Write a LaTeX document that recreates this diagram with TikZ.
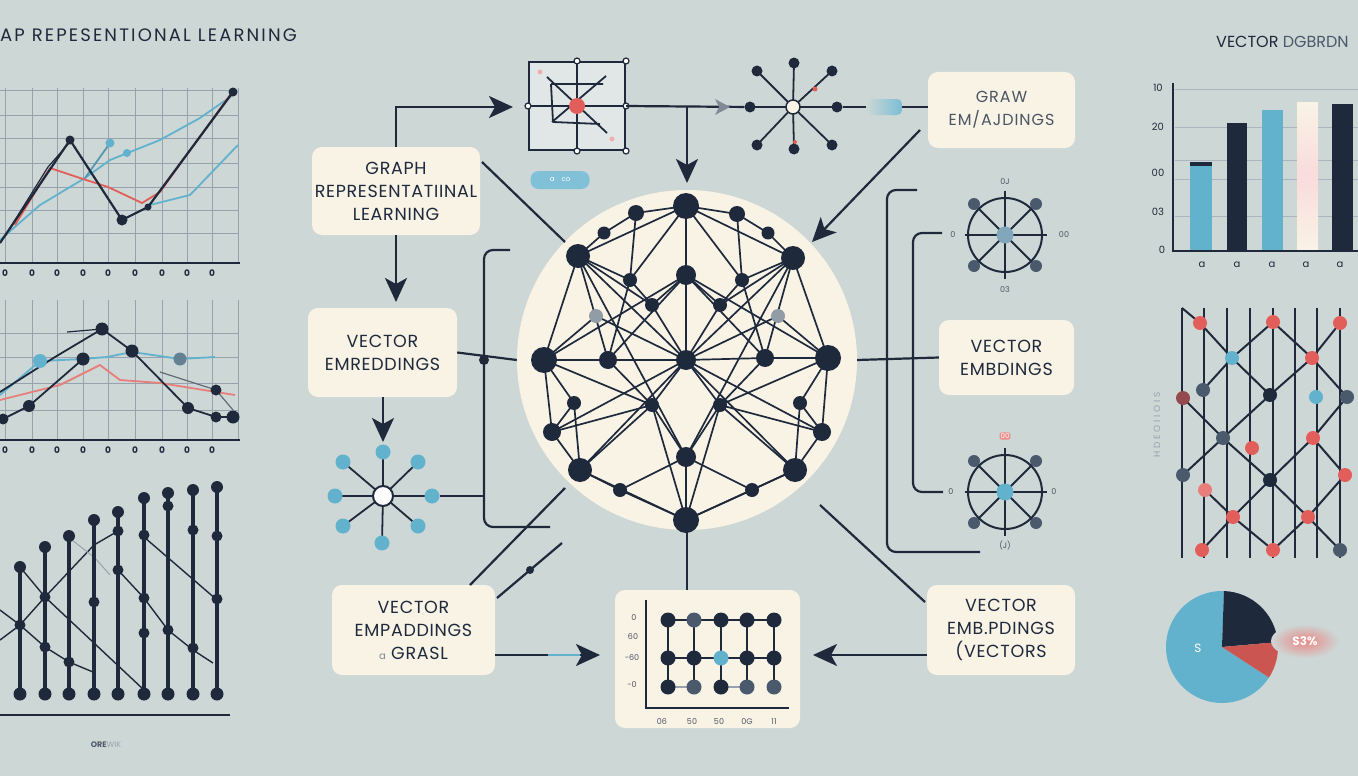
\documentclass[tikz,border=0pt]{standalone}
\usepackage{fontspec}
\setmainfont{Poppins}
\usetikzlibrary{arrows.meta,calc}
\definecolor{bg}{RGB}{205,215,213}
\definecolor{navy}{RGB}{30,42,60}
\definecolor{cream}{RGB}{249,243,230}
\definecolor{lblue}{RGB}{98,178,206}
\definecolor{rred}{RGB}{226,94,90}
\definecolor{gridc}{RGB}{150,163,172}
\definecolor{slate}{RGB}{74,90,108}
\definecolor{steel}{RGB}{130,166,186}
\newcommand{\boxfont}{\fontsize{17.5}{23}\selectfont\addfontfeatures{LetterSpace=4}}
\begin{document}
\begin{tikzpicture}[x=1pt,y=-1pt,
  box/.style={rectangle, rounded corners=10pt, fill=cream, inner sep=0pt, align=center, text=navy, font=\boxfont},
  ln/.style={draw=navy, line width=2.2pt},
  arr/.style={ln, -{Stealth[length=24pt,width=22pt,inset=6pt]}},
  net/.style={draw=navy, line width=1.7pt},
  lbl/.style={inner sep=0pt, text=navy, font=\fontsize{9}{9}\selectfont\bfseries},
  sml/.style={inner sep=0pt, text=navy!80, font=\fontsize{8}{8}\selectfont},
  gl/.style={draw=gridc, line width=0.8pt},
  cl/.style={line width=1.8pt, line join=round}
]
\fill[bg] (0,0) rectangle (1358,776);
\useasboundingbox (0,0) rectangle (1358,776);

% ---------------- title top left
\node[anchor=west, inner sep=0pt, text=navy, font=\fontsize{18}{18}\selectfont\addfontfeatures{LetterSpace=12}] (title) at (0,35) {AP REPESENTIONAL LEARNING};

% ---------------- chart 1
\foreach \x in {5,32,57,83,108,135,162,187,212,238} \draw[gl] (\x,88) -- (\x,263);
\foreach \y in {90,115,138,163,187,210,233} \draw[gl] (0,\y) -- (238,\y);
\draw[navy, line width=2pt] (0,263) -- (240,263);
\foreach \x in {5,32,57,83,108,135,162,187,212} \node[lbl] at (\x,273) {0};
\draw[cl, lblue] (0,240) -- (40,205) -- (85,178) -- (110,160) -- (160,140) -- (200,118) -- (233,95);
\draw[cl, lblue] (150,205) -- (190,195) -- (238,145);
\draw[cl, lblue!80!navy] (85,178) -- (110,143);
\draw[cl, rred] (15,225) -- (50,168) -- (80,178) -- (108,187) -- (142,203) -- (160,192) -- (230,95);
\draw[cl, navy, line width=2.2pt] (0,243) -- (70,140) -- (122,220) -- (148,207) -- (233,92);
\draw[navy, line width=1.2pt] (5,236) -- (48,167) -- (70,142);
\fill[navy] (70,140) circle (4.5) (122,220) circle (5.5) (148,207) circle (3.5) (233,92) circle (4.5);
\fill[lblue] (110,143) circle (4.5) (127,153) circle (4);

% ---------------- chart 2
\foreach \x in {5,32,57,83,108,135,162,187,212,238} \draw[gl] (\x,300) -- (\x,440);
\foreach \y in {333,357,383,410} \draw[gl] (0,\y) -- (238,\y);
\draw[navy, line width=2pt] (0,440) -- (240,440);
\foreach \x in {5,32,57,83,108,135,162,187,212} \node[lbl] at (\x,450) {0};
\draw[cl, rred!80] (0,400) -- (60,385) -- (100,365) -- (120,380) -- (160,383) -- (235,395);
\draw[cl, lblue] (0,395) -- (40,361) -- (83,359) -- (107,357) -- (132,352) -- (180,359) -- (215,357);
\draw[cl, navy] (3,419) -- (29,406) -- (83,359);
\draw[cl, navy] (0,392) -- (55,357) -- (102,329) -- (132,351) -- (188,408) -- (216,417) -- (233,417);
\draw[navy, line width=1.2pt] (67,332) -- (102,329);
\draw[navy!70, line width=1.2pt] (160,372) -- (216,390) -- (233,410);
\fill[navy] (102,329) circle (6.5) (83,359) circle (6.5) (132,351) circle (6.5) (29,406) circle (6)
  (3,419) circle (5.5) (188,408) circle (6) (216,417) circle (5.5) (233,417) circle (6.5) (216,390) circle (5.5);
\fill[lblue] (40,361) circle (7);
\fill[steel!70!navy] (180,359) circle (6.5);

% ---------------- chart 3
\draw[cl, navy, line width=1.4pt] (0,640) -- (20,625) -- (45,597) -- (94,545) -- (118,531);
\draw[cl, navy, line width=1.4pt] (20,567) -- (45,597) -- (144,690);
\draw[cl, navy, line width=1.4pt] (0,610) -- (20,625) -- (45,647) -- (69,662) -- (93,672);
\draw[cl, navy, line width=1.4pt] (118,570) -- (144,598) -- (168,630) -- (193,650) -- (213,663);
\draw[cl, navy, line width=1.4pt] (144,537) -- (217,600);
\draw[gridc, line width=1pt] (72,540) -- (95,558) -- (110,575);
\foreach \x/\t in {20/567,45/547,69/536,94/520,118/512,144/498,168/493,193/490,217/487}{
  \draw[navy, line width=4.5pt] (\x,\t) -- (\x,694);
  \fill[navy] (\x,\t) circle (6);
  \fill[navy] (\x,694) circle (6.5);
}
\foreach \x/\y in {20/625,45/597,45/647,69/662,94/602,118/531,118/570,144/535,144/598,144/633,168/506,168/630,193/530,193/648,217/536,217/599}
  \fill[navy] (\x,\y) circle (5.5);
\draw[navy, line width=2pt] (0,715) -- (230,715);
\node[inner sep=0pt, font=\fontsize{8}{8}\selectfont] (orewik) at (106,745) {\textcolor{slate}{\bfseries ORE}\textcolor{gridc}{WIK}};

% ---------------- right top bar chart
\node[anchor=west, inner sep=0pt, font=\fontsize{16}{16}\selectfont] (vtitle) at (1216,42) {\textcolor{navy}{VECTOR} \textcolor{slate}{DGBRDN}};
\foreach \y in {90,127,160,179,216} \draw[gridc!80, line width=1pt] (1175,\y) -- (1358,\y);
\fill[lblue] (1190,165) rectangle (1212,250);
\fill[navy] (1190,162) rectangle (1212,166);
\fill[navy] (1227,123) rectangle (1247,250);
\fill[lblue] (1262,110) rectangle (1283,250);
\shade[top color=cream, bottom color=cream, middle color=rred!22] (1297,102) rectangle (1318,250);
\fill[navy] (1332,104) rectangle (1353,250);
\draw[navy, line width=1.8pt] (1173,83) -- (1173,251) -- (1358,251);
\node[lbl, font=\fontsize{10}{10}\selectfont] at (1158,88) {10};
\node[lbl, font=\fontsize{10}{10}\selectfont] at (1158,127) {20};
\node[lbl, font=\fontsize{10}{10}\selectfont] at (1158,173) {00};
\node[lbl, font=\fontsize{10}{10}\selectfont] at (1158,212) {03};
\node[lbl, font=\fontsize{10}{10}\selectfont] at (1162,250) {0};
\foreach \x in {1202,1237,1272,1306,1340} \node[lbl, font=\fontsize{10}{10}\selectfont] at (\x,265) {a};

% ---------------- right lattice
\foreach \x in {1182,1204,1227,1250,1273,1295,1317,1340} \draw[navy, line width=2pt] (\x,308) -- (\x,558);
\foreach \n/\x/\y in {lA/1200/323,lB/1273/322,lC/1340/323,lD/1232/358,lE/1312/358,lF/1203/390,lG/1183/398,lH/1270/395,lI/1316/397,lJ/1347/397,lK/1223/438,lL/1252/448,lM/1313/438,lN/1183/475,lO/1270/480,lP/1345/475,lQ/1205/490,lR/1233/517,lS/1308/517,lT/1202/550,lU/1273/550,lV/1340/550}
  \coordinate (\n) at (\x,\y);
\coordinate (lZ) at (1182,308);
\foreach \a/\b in {lZ/lA,lA/lD,lD/lB,lB/lE,lE/lC,lD/lF,lD/lH,lH/lE,lE/lJ,lH/lK,lK/lN,lG/lK,lK/lO,lO/lS,lS/lV,lM/lO,lO/lR,lR/lT,lJ/lM,lM/lP,lU/lS,lS/lP,lR/lU,lQ/lR}
  \draw[navy, line width=2pt] (\a) -- (\b);
\foreach \n/\c in {lA/rred,lB/rred,lC/rred,lD/lblue,lE/rred,lF/slate,lG/rred!60!navy,lH/navy,lI/lblue,lJ/slate,lK/slate,lL/rred,lM/rred,lN/slate,lO/navy,lP/rred,lQ/rred!80,lR/rred,lS/rred,lT/rred,lU/rred,lV/slate}
  \node[circle, fill=\c, inner sep=0pt, minimum size=14pt] (d\n) at (\n) {};
\node[rotate=90, inner sep=0pt, text=gridc, font=\fontsize{9}{9}\selectfont\addfontfeatures{LetterSpace=30}] (hdeo) at (1157,425) {HDEOIIOIS};

% ---------------- pie
\coordinate (pc) at (1222,647);
\fill[lblue] (pc) -- ++(33:56) arc (33:272:56) -- cycle;
\fill[navy] (pc) -- ++(-88:56) arc (-88:-5:56) -- cycle;
\fill[rred!90!black] (pc) -- ++(-5:56) arc (-5:33:56) -- cycle;
\node[inner sep=0pt, text=white, font=\fontsize{12}{12}\selectfont] (pieS) at (1198,648) {S};
\shade[inner color=rred!75, outer color=bg] (1305,641) ellipse (34 and 17);
\node[inner sep=0pt, text=white, font=\fontsize{12}{12}\selectfont\bfseries] (pct) at (1305,641) {S3\%};

% ---------------- big circle and network
\node[circle, fill=cream, minimum size=340pt, inner sep=0pt] (bc) at (687,360) {};
\foreach \n/\x/\y in {n1/686/206,n2/636/213,n3/737/214,n4/604/233,n5/768/233,n6/578/256,n7/793/258,n8/686/275,n9/630/280,n10/742/280,n11/596/316,n12/778/316,n13/652/305,n14/720/305,n15/544/360,n16/608/360,n17/686/360,n18/765/358,n19/828/358,n20/574/403,n21/652/405,n22/720/405,n23/800/403,n24/552/432,n25/822/432,n26/686/457,n27/580/470,n28/795/470,n29/620/490,n30/752/490,n32/686/520}
  \coordinate (\n) at (\x,\y);
\foreach \a/\b in {n1/n2,n1/n3,n2/n4,n4/n6,n3/n5,n5/n7,n6/n15,n7/n19,n15/n24,n24/n27,n27/n32,n19/n25,n25/n28,n28/n32,
  n1/n8,n1/n9,n1/n10,n1/n6,n1/n7,n2/n9,n3/n10,n6/n9,n7/n10,n6/n16,n7/n18,n8/n13,n8/n14,n8/n17,n9/n13,n10/n14,
  n9/n16,n10/n18,n11/n15,n12/n19,n11/n17,n12/n17,n13/n17,n14/n17,n15/n16,n16/n17,n17/n18,n18/n19,n15/n20,n19/n23,
  n16/n21,n18/n22,n17/n21,n17/n22,n20/n24,n23/n25,n21/n26,n22/n26,n20/n27,n23/n28,n26/n32,n26/n29,n26/n30,
  n29/n32,n30/n32,n27/n29,n28/n30,n6/n13,n7/n14,n15/n21,n19/n22,n24/n21,n25/n22,n27/n21,n28/n22,
  n6/n17,n7/n17,n27/n17,n28/n17,n8/n16,n8/n18,n6/n26,n7/n26,n15/n8,n19/n8,n24/n17,n25/n17,n32/n21,n32/n22}
  \draw[net] (\a) -- (\b);
\foreach \n/\s in {n1/26,n2/16,n3/16,n4/13,n5/13,n6/24,n7/24,n8/20,n9/14,n10/14,n13/14,n14/14,n15/26,n16/18,n17/20,n18/18,n19/26,n20/14,n21/14,n22/14,n23/14,n24/18,n25/18,n26/20,n27/24,n28/24,n29/14,n30/14,n32/26}
  \node[circle, fill=navy, inner sep=0pt, minimum size=\s] (d\n) at (\n) {};
\node[circle, fill=slate!60, inner sep=0pt, minimum size=14] (dn11) at (n11) {};
\node[circle, fill=slate!60, inner sep=0pt, minimum size=14] (dn12) at (n12) {};

% ---------------- boxes
\node[box, minimum width=168pt, minimum height=88pt] (grl) at (396,191) {GRAPH\\REPRESENTATIINAL\\LEARNING};
\node[box, minimum width=149pt, minimum height=89pt] (ve1) at (382.5,352.5) {VECTOR\\EMREDDINGS};
\node[box, minimum width=147pt, minimum height=76pt, text=navy!80, font=\fontsize{16}{23}\selectfont\addfontfeatures{LetterSpace=6}] (graw) at (1001.5,110) {GRAW\\EM/AJDINGS};
\node[box, minimum width=135pt, minimum height=75pt] (ve2) at (1006.5,357.5) {VECTOR\\EMBDINGS};
\node[box, minimum width=163pt, minimum height=90pt] (ve3) at (413.5,630) {VECTOR\\EMPADDINGS\\{\color{slate!70}\fontsize{10}{10}\selectfont a}\ GRASL};
\node[box, minimum width=185pt, minimum height=138pt] (gbox) at (707.5,659) {};
\node[box, minimum width=148pt, minimum height=90pt] (ve4) at (1001,630) {VECTOR\\EMB.PDINGS\\(VECTORS};

% ---------------- grid chart inside gbox
\draw[navy, line width=2pt] (646,600) -- (646,708) -- (789,708);
\foreach \x in {668,694,721,747,774} \draw[navy, line width=1.8pt] (\x,620) -- (\x,687);
\draw[navy, line width=1.8pt] (668,620) -- (774,620);
\draw[navy, line width=1.8pt] (668,658) -- (774,658);
\draw[gridc, line width=1.2pt] (668,687) -- (694,687) (721,687) -- (747,687);
\foreach \x/\y/\c in {668/620/navy,694/620/slate,721/620/navy,747/620/navy,774/620/navy,
  668/658/navy,694/658/navy,721/658/lblue,747/658/navy,774/658/navy,
  668/687/navy,694/687/slate,721/687/navy,747/687/slate,774/687/slate}
  \fill[\c] (\x,\y) circle (7.5);
\node[sml] at (634,618) {0};
\node[sml] at (633,637) {60};
\node[sml] at (632,658) {-60};
\node[sml] at (632,685) {-0};
\node[sml] at (662,722) {06};
\node[sml] at (692,722) {50};
\node[sml] at (719,722) {50};
\node[sml] at (747,722) {0G};
\node[sml] at (774,722) {11};

% ---------------- pill
\node[rounded corners=8pt, fill=lblue!80, minimum width=59pt, minimum height=18pt, inner sep=0pt, text=white, font=\fontsize{7}{7}\selectfont] (pill) at (560,180) {a\quad co};

% ---------------- top square diagram
\node[draw=navy, line width=2pt, fill=bg!60!white, minimum width=96pt, minimum height=88pt, inner sep=0pt] (sq) at (577,106) {};
\draw[navy, line width=1.8pt] (sq.west) -- (sq.east) (sq.north) -- (sq.south);
\draw[navy, line width=1.8pt] (551,84) -- (603,84) (551,84) -- (553,122) (547,77) -- (607,133) (606,76) -- (552,122) (553,122) -- (600,124);
\foreach \p in {sq.west,sq.east,sq.north,sq.south,sq.north east,sq.south east}
  \filldraw[fill=white, draw=navy, line width=1.2pt] (\p) circle (3);
\fill[rred!50] (540,72) circle (2.5) (612,139) circle (2.5);
\node[circle, fill=rred, inner sep=0pt, minimum size=16pt] (sqc) at (577,106) {};

% ---------------- top star
\coordinate (st) at (793,107);
\foreach \n/\x/\y in {s1/750/107,s2/837/107,s3/794/63,s4/794/149,s5/757/71,s6/832/71,s7/757/145,s8/832/145}{
  \draw[navy, line width=1.8pt] (st) -- (\x,\y);
  \node[circle, fill=navy, inner sep=0pt, minimum size=11pt] (\n) at (\x,\y) {};
}
\node[circle, fill=cream, draw=navy, line width=1.5pt, inner sep=0pt, minimum size=14pt] (stc) at (st) {};
\fill[rred] (815,89) circle (2.5) (795,142) circle (2);

% ---------------- bottom-left blue star
\coordinate (bs) at (383,496);
\foreach \n/\x/\y in {b1/383/452,b2/343/462,b3/418/462,b4/335/496,b5/432/496,b6/343/526,b7/418/526,b8/382/543}{
  \draw[navy, line width=1.8pt] (bs) -- (\x,\y);
  \node[circle, fill=lblue, inner sep=0pt, minimum size=15pt] (\n) at (\x,\y) {};
}
\node[circle, fill=white, draw=navy, line width=2pt, inner sep=0pt, minimum size=20pt] (bsc) at (bs) {};

% ---------------- wheels
\foreach \w/\cx/\cy/\cc in {w1/1005/235/steel,w2/1005/492/lblue}{
  \draw[navy, line width=2pt] (\cx,\cy) circle (37);
  \draw[navy, line width=1.8pt] (\cx,\cy-44) -- (\cx,\cy+44) (\cx-40,\cy) -- (\cx+42,\cy);
  \draw[navy, line width=1.8pt] (\cx-31,\cy-31) -- (\cx+31,\cy+31) (\cx+31,\cy-31) -- (\cx-31,\cy+31);
  \fill[slate] (\cx-31,\cy-31) circle (6) (\cx+31,\cy-31) circle (6) (\cx-31,\cy+31) circle (6) (\cx+31,\cy+31) circle (6);
  \node[circle, fill=\cc, inner sep=0pt, minimum size=17pt] (\w) at (\cx,\cy) {};
}
\node[sml] at (1005,182) {0J};
\node[sml] at (953,235) {0};
\node[sml] at (1064,235) {00};
\node[sml] at (1005,290) {03};
\node[inner sep=1pt, fill=rred!70, rounded corners=2pt, text=white, font=\fontsize{7}{7}\selectfont] at (1005,436) {00};
\node[sml] at (951,492) {0};
\node[sml] at (1054,492) {0};
\node[sml] at (1005,546) {(J)};

% ---------------- connectors
\coordinate (a1) at (513,107);
\coordinate (j1) at (687,107);
\coordinate (bcT) at (687,183);
\draw[arr] (grl.north) |- (a1);
\draw[ln] (sq.east) -- (s1);
\fill[slate!70] (730,107) -- (715,99) -- (719,107) -- (715,115) -- cycle;
\draw[arr] (j1) -- (bcT);
\draw[ln] (graw.west |- st) -- (s2);
\shade[left color=bg, right color=lblue!85, rounded corners=5pt] (866,99) rectangle (902,115);
\coordinate (gw1) at (920,130);
\coordinate (bcNE) at (812,242);
\draw[arr] (gw1) -- (bcNE);
\coordinate (grlR) at (482,162);
\coordinate (bcNW) at (565,242);
\draw[ln] (grlR) -- (bcNW);
\coordinate (ve1T) at (396,302);
\draw[arr] (grl.south) -- (ve1T);
\coordinate (ve1b) at (383,397);
\coordinate (bsT) at (383,442);
\draw[arr] (ve1b) -- (bsT);
\coordinate (jl) at (484,360);
\draw[ln] (ve1.east) -- (bc.west);
\fill[navy] (jl) circle (5);
\draw[ln, rounded corners=9pt] (510,250) -| (484,527) -- (550,527);
\draw[ln] (b5) -- (b5 -| jl);
\coordinate (q1) at (470,585);
\coordinate (q2) at (565,488);
\coordinate (q3) at (497,598);
\coordinate (q4) at (562,543);
\draw[ln] (q1) -- (q2);
\draw[ln] (q3) -- (q4);
\fill[navy] (530,570) circle (4);
\coordinate (ga) at (600,655);
\draw[arr] (ve3.east |- ga) -- (ga);
\draw[lblue, line width=2.5pt] (548,655) -- (580,655);
\draw[ln] (bc.south) -- (gbox.north -| bc.south);
\coordinate (gb) at (813,655);
\draw[arr] (ve4.west |- gb) -- (gb);
\coordinate (bcSE) at (820,505);
\coordinate (ve4nw) at (925,602);
\draw[ln] (bcSE) -- (ve4nw);
\draw[ln] (ve2.west) -- (bc.east);
\draw[ln, rounded corners=9pt] (917,190) -| (887,552) -- (980,552);
\draw[ln, rounded corners=9pt] (942,233) -| (913,492) -- (943,492);
\end{tikzpicture}
\end{document}
